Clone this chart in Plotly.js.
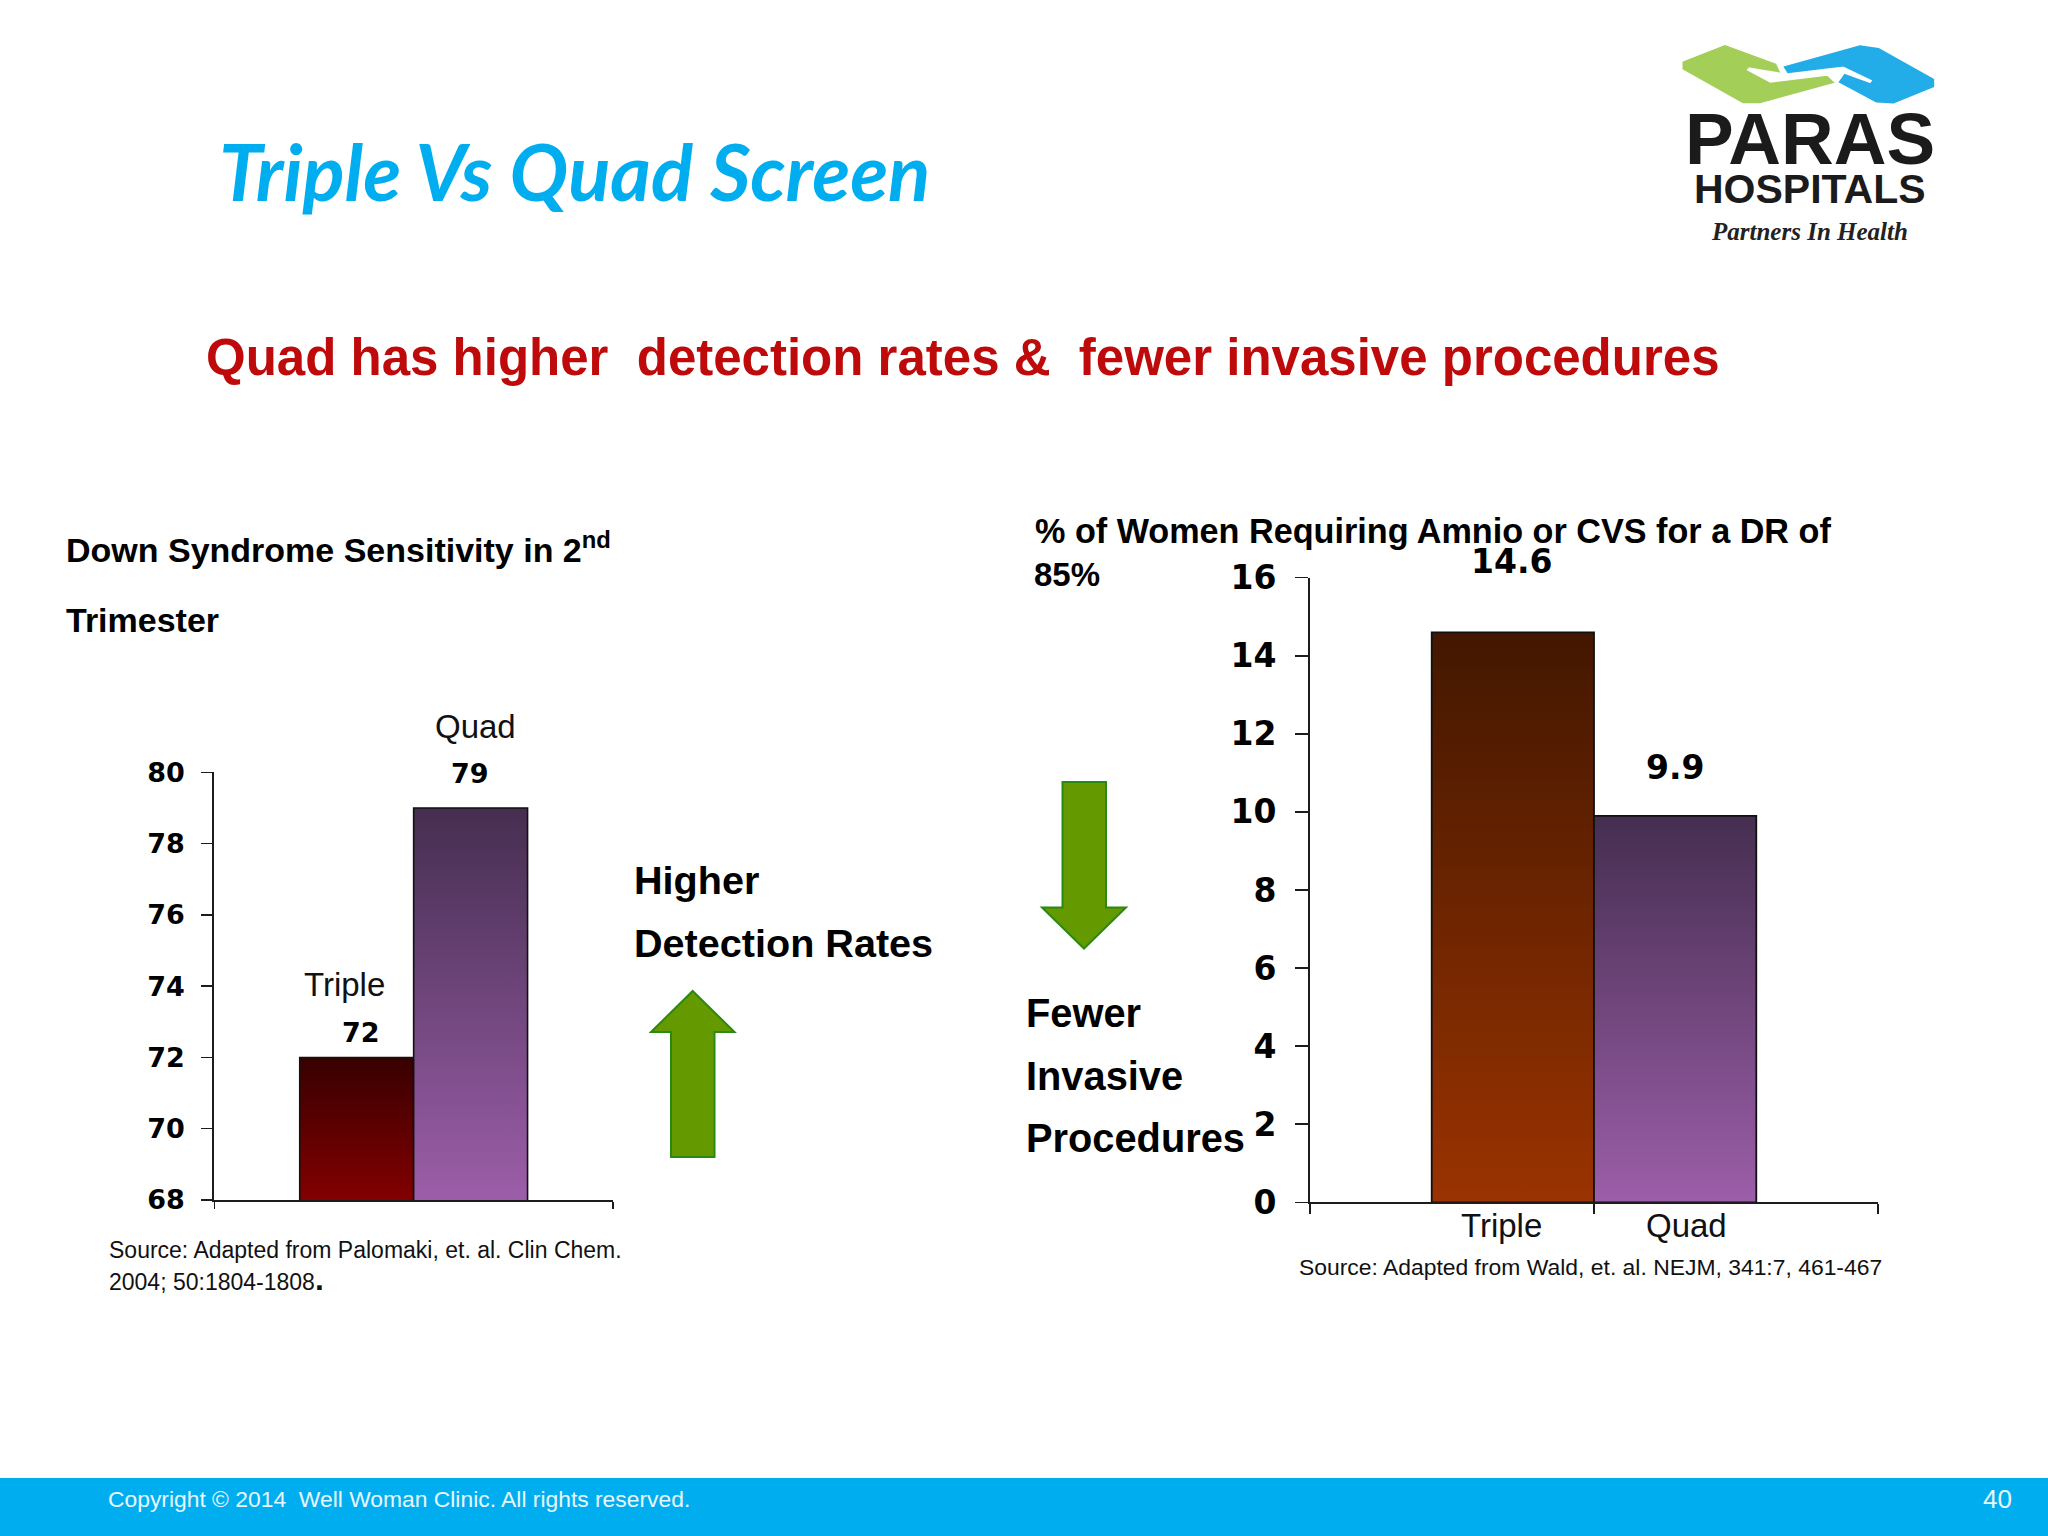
<!DOCTYPE html>
<html>
<head>
<meta charset="utf-8">
<script src="https://cdn.plot.ly/plotly-3.0.1.min.js"></script>
<style>html,body{margin:0;padding:0;background:#fff}#chart{width:2048px;height:1536px}</style>
</head>
<body>
<div id="chart"></div>
<script>
// ---- data ----
const categories = ['Triple', 'Quad'];
const barPositions = [0, 1];
const sensitivityValues = [72, 79];
const invasiveValues = [14.6, 9.9];
const sensitivityTicks = [68, 70, 72, 74, 76, 78, 80];
const invasiveTicks = [0, 2, 4, 6, 8, 10, 12, 14, 16];

// ---- page helpers (page pixels to paper fractions) ----
const W = 2048, H = 1536;
const xp = v => v / W;
const yp = v => 1 - v / H;
const ARIAL = '"Liberation Sans", Arial, sans-serif';
const WIDE = '"DejaVu Sans", sans-serif';

function note(text, x, y, size, opts) {
  const o = opts || {};
  return {
    text, x: xp(x), y: yp(y), xref: 'paper', yref: 'paper',
    xanchor: o.anchor || 'left', yanchor: 'middle', align: o.anchor || 'left', showarrow: false,
    font: { family: o.family || ARIAL, size, color: o.color || '#000', weight: o.weight || 400, style: o.style || 'normal' }
  };
}
function poly(points, fill, lineColor, lineWidth) {
  const d = points.map((p, i) => (i ? 'L' : 'M') + xp(p[0]).toFixed(5) + ',' + yp(p[1]).toFixed(5)).join(' ') + ' Z';
  return { type: 'path', path: d, xref: 'paper', yref: 'paper', fillcolor: fill, line: { color: lineColor, width: lineWidth } };
}
const logo = pts => pts.map(p => [1600 + p[0] / 3, 20 + p[1] / 3]);

const greenHand = logo([[252,128],[375,80],[525,135],[533,152],[445,137],[433,152],[510,193],[680,172],[695,186],[480,245],[430,245],[252,145]]);
const blueHand = logo([[557,142],[780,80],[835,88],[998,180],[998,198],[880,246],[830,243],[722,185],[735,167],[812,195],[824,180],[730,135],[565,155]]);
const upArrow = [[692.7,991],[734.5,1032],[714.5,1032],[714.5,1157],[671,1157],[671,1032],[651,1032]];
const downArrow = [[1062.5,782],[1106,782],[1106,907.5],[1126,907.5],[1084,948.5],[1042,907.5],[1062.5,907.5]];

const lineColor = '#1c1c1c';
const traces = [
  { type: 'bar', x: barPositions, y: sensitivityValues, width: [1, 1], xaxis: 'x', yaxis: 'y',
    marker: { color: ['#5c0000', '#71497e'], line: { color: '#111', width: 1.6 } }, hoverinfo: 'none', showlegend: false },
  { type: 'bar', x: barPositions, y: invasiveValues, width: [1, 1], xaxis: 'x2', yaxis: 'y2',
    marker: { color: ['#6f2600', '#71497e'], line: { color: '#111', width: 1.8 } }, hoverinfo: 'none', showlegend: false }
];

function dataLabel(text, xr, yr, x, y, size, yshift, xshift) {
  return { text, x, y, xref: xr, yref: yr, showarrow: false, yanchor: 'bottom', yshift, xshift,
    font: { family: WIDE, size, color: '#000', weight: 700 } };
}
function catLabel(text, xr, yr, x, y, xshift, yshift) {
  return { text, x, y, xref: xr, yref: yr, showarrow: false, yanchor: 'middle', xanchor: 'center', xshift, yshift,
    font: { family: ARIAL, size: 33, color: '#111' } };
}

const annotations = [
  note('Triple Vs Quad Screen', 217, 171, 78, { family: 'Lato, sans-serif', color: '#00AEEF', weight: 700, style: 'italic' }),
  note('Quad has higher  detection rates &  fewer invasive procedures', 204, 357, 51, { color: '#BE0A0A', weight: 700 }),
  note('Down Syndrome Sensitivity in 2<sup>nd</sup>', 64, 547, 34, { weight: 700 }),
  note('Trimester', 64, 620, 34, { weight: 700 }),
  note('% of Women Requiring Amnio or CVS for a DR of', 1033, 531, 34.2, { weight: 700 }),
  note('85%', 1032, 575, 33, { weight: 700 }),
  note('Higher', 632, 880, 39.6, { weight: 700 }),
  note('Detection Rates', 632, 943, 39.6, { weight: 700 }),
  note('Fewer', 1024, 1013, 39.8, { weight: 700 }),
  note('Invasive', 1024, 1076, 39.8, { weight: 700 }),
  note('Procedures', 1024, 1138, 39.8, { weight: 700 }),
  note('Source: Adapted from Palomaki, et. al. Clin Chem.', 106.5, 1250, 23, { color: '#111' }),
  note('2004; 50:1804-1808<b><span style="font-size:32px">.</span></b>', 106.5, 1279, 23, { color: '#111' }),
  note('Source: Adapted from Wald, et. al. NEJM, 341:7, 461-467', 1297, 1267, 22.9, { color: '#111' }),
  note('Copyright © 2014  Well Woman Clinic. All rights reserved.', 106, 1499, 22.85, { color: '#e8f7fe' }),
  note('40', 2014, 1499, 26, { color: '#e8f7fe', anchor: 'right' }),
  note('PARAS', 1810, 139, 73, { anchor: 'center', weight: 700, color: '#1b1b1b' }),
  note('HOSPITALS', 1810, 189, 41, { anchor: 'center', weight: 700, color: '#1b1b1b' }),
  note('Partners In Health', 1809, 231, 25, { anchor: 'center', family: '"Liberation Serif", serif', style: 'italic', weight: 700, color: '#222' }),
  dataLabel(String(sensitivityValues[0]), 'x', 'y', barPositions[0], sensitivityValues[0], 27, 7, 4),
  dataLabel(String(sensitivityValues[1]), 'x', 'y', barPositions[1], sensitivityValues[1], 27, 17, -1),
  dataLabel(String(invasiveValues[0]), 'x2', 'y2', barPositions[0], invasiveValues[0], 33, 49, -1),
  dataLabel(String(invasiveValues[1]), 'x2', 'y2', barPositions[1], invasiveValues[1], 33, 27, 0),
  catLabel(categories[0], 'x', 'y', barPositions[0], sensitivityValues[0], -12, 73),
  catLabel(categories[1], 'x', 'y', barPositions[1], sensitivityValues[1], 5, 81),
  catLabel(categories[0], 'x2', 'y2', barPositions[0], 0, -11, -23),
  catLabel(categories[1], 'x2', 'y2', barPositions[1], 0, 11, -23)
];

const shapes = [
  { type: 'rect', xref: 'paper', yref: 'paper', x0: 0, x1: 1, y0: yp(1536), y1: yp(1478), fillcolor: '#00AEEF', line: { width: 0 } },
  poly(upArrow, '#659900', '#2a8a10', 2),
  poly(downArrow, '#659900', '#2a8a10', 2),
  poly(greenHand, '#A3CE57', '#A3CE57', 3),
  poly(blueHand, '#22ACE8', '#22ACE8', 3)
];

function yAxis(dom, range, ticks, size, ticklen, standoff, anchor) {
  return { domain: dom, range, anchor, tickmode: 'array', tickvals: ticks, ticktext: ticks.map(String),
    ticks: 'outside', ticklen, tickwidth: 1.5, tickcolor: lineColor, showline: true, linecolor: lineColor, linewidth: 2,
    showgrid: false, zeroline: false, ticklabelstandoff: standoff, fixedrange: true,
    tickfont: { family: WIDE, size, color: '#000', weight: 700 } };
}
function xAxis(px0, px1, tickPos, ticklen, anchor) {
  return { domain: [xp(px0), xp(px1)], range: [-1.25, 2.25], anchor, tickmode: 'array', tickvals: tickPos,
    showticklabels: false, ticks: 'outside', ticklen, tickwidth: 1.5, tickcolor: lineColor,
    showline: true, linecolor: lineColor, linewidth: 2, showgrid: false, zeroline: false, fixedrange: true };
}

const layout = {
  width: W, height: H, margin: { l: 0, r: 0, t: 0, b: 0, pad: 0 },
  paper_bgcolor: '#fff', plot_bgcolor: 'rgba(0,0,0,0)', showlegend: false, barmode: 'group', bargap: 0,
  xaxis: xAxis(214.3, 613, [-1.25, 2.25], 7, 'y'),
  yaxis: yAxis([yp(1200), yp(772.3)], [68, 80], sensitivityTicks, 27, 11, 11, 'x'),
  xaxis2: xAxis(1310, 1878, [-1.25, 0.5, 2.25], 9.5, 'y2'),
  yaxis2: yAxis([yp(1202.3), yp(577.7)], [0, 16], invasiveTicks, 33, 13, 12, 'x2'),
  annotations, shapes
};

// Bars have a vertical gradient in the reference: top colour, bottom colour per bar.
const barGradients = [
  [['#380000', '#830000'], ['#452E50', '#9C5EA9']],
  [['#431700', '#9A3300'], ['#452E50', '#9C5EA9']]
];
Plotly.newPlot('chart', traces, layout, { displayModeBar: false, staticPlot: true }).then(gd => {
  const svg = gd.querySelector('.main-svg');
  const NS = 'http://www.w3.org/2000/svg';
  const defs = svg.querySelector('defs');
  const axes = [gd._fullLayout.yaxis, gd._fullLayout.yaxis2];
  gd.querySelectorAll('.barlayer .trace').forEach((t, i) => {
    t.querySelectorAll('.point path').forEach((p, j) => {
      const id = 'barGrad' + i + '_' + j;
      const top = p.getBBox().y;
      const lg = document.createElementNS(NS, 'linearGradient');
      lg.setAttribute('id', id);
      lg.setAttribute('gradientUnits', 'userSpaceOnUse');
      lg.setAttribute('x1', '0'); lg.setAttribute('x2', '0');
      lg.setAttribute('y1', top); lg.setAttribute('y2', axes[i]._length);
      barGradients[i][j].forEach((c, k) => {
        const st = document.createElementNS(NS, 'stop');
        st.setAttribute('offset', k); st.setAttribute('stop-color', c);
        lg.appendChild(st);
      });
      defs.appendChild(lg);
      p.style.fill = 'url(#' + id + ')';
    });
  });
});
</script>
</body>
</html>
